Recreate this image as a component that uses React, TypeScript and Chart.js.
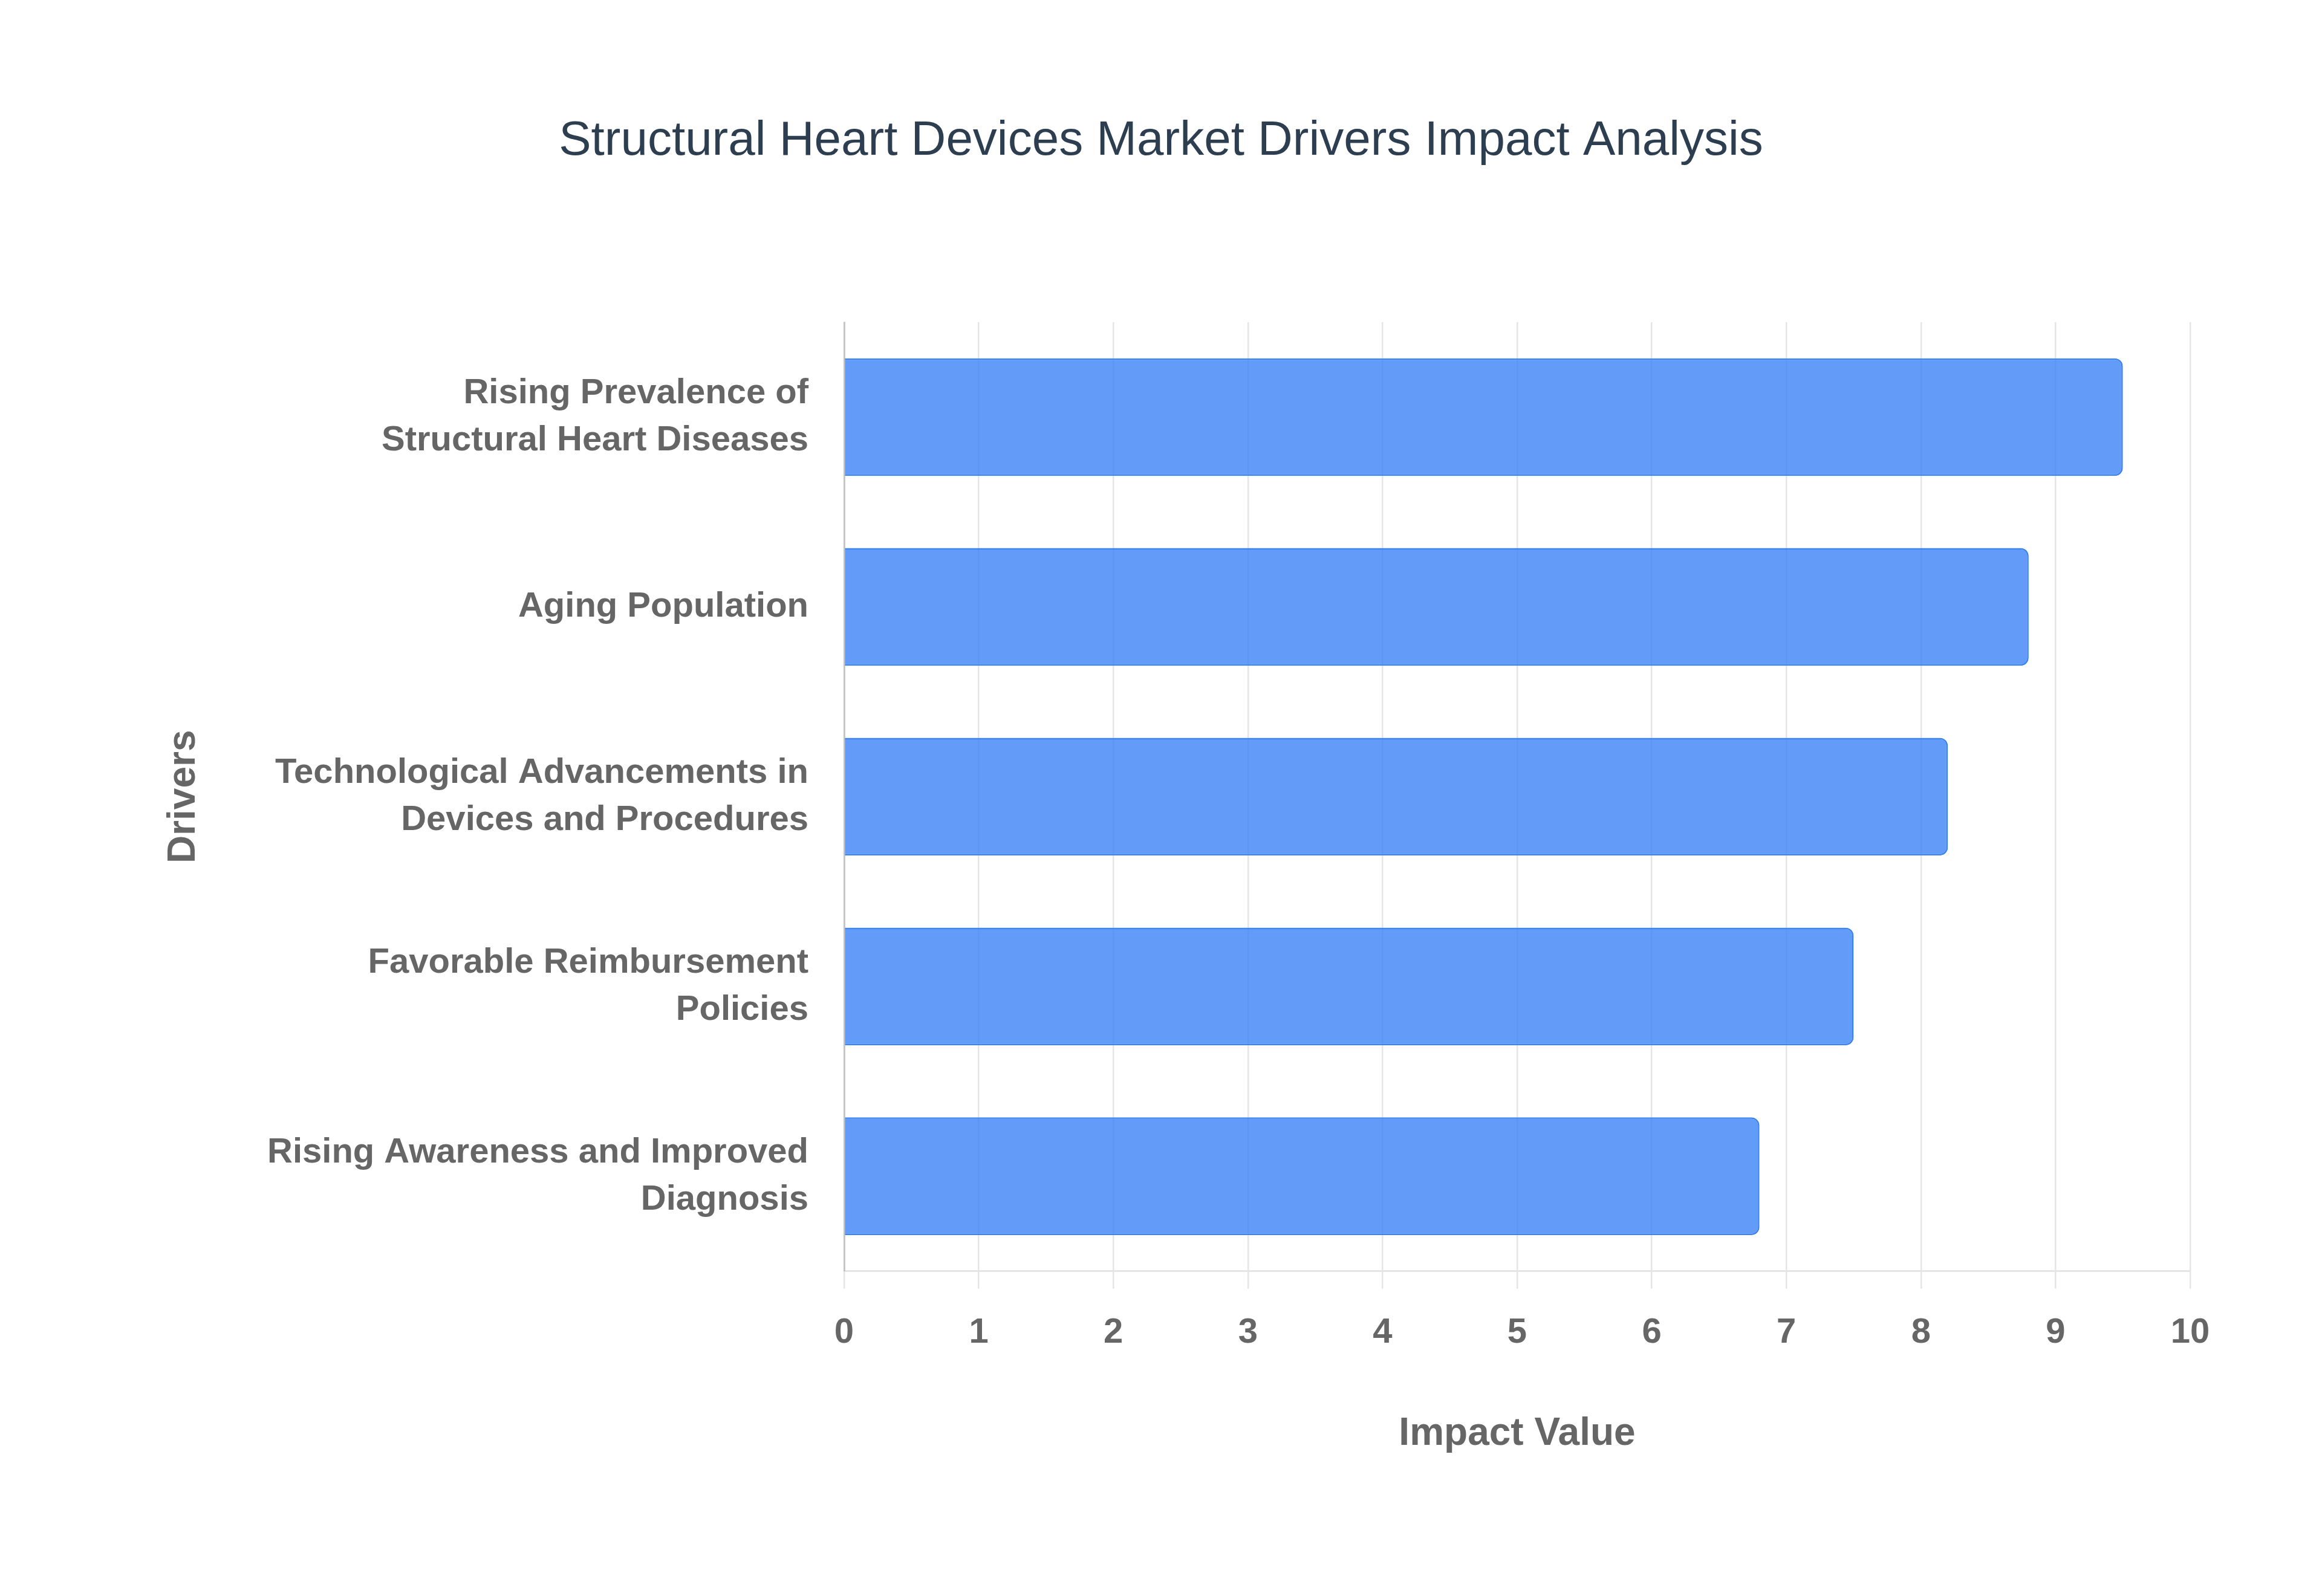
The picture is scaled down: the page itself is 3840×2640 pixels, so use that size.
import React, { useEffect, useRef } from 'react';
import Chart from 'chart.js/auto';

const drivers: string[][] = [
  ['Rising Prevalence of', 'Structural Heart Diseases'],
  ['Aging Population'],
  ['Technological Advancements in', 'Devices and Procedures'],
  ['Favorable Reimbursement', 'Policies'],
  ['Rising Awareness and Improved', 'Diagnosis'],
];
const impactValues: number[] = [9.5, 8.8, 8.2, 7.5, 6.8];
const xTicks: number[] = [0, 1, 2, 3, 4, 5, 6, 7, 8, 9, 10];

const FONT = "'Liberation Sans', Arial, Helvetica, sans-serif";

const App: React.FC = () => {
  const canvasRef = useRef<HTMLCanvasElement | null>(null);
  const chartRef = useRef<Chart | null>(null);

  useEffect(() => {
    document.body.style.margin = '0';
    if (!canvasRef.current) return;
    const ctx = canvasRef.current.getContext('2d');
    if (!ctx) return;

    if (chartRef.current) {
      chartRef.current.destroy();
      chartRef.current = null;
    }

    const gridColor = 'rgba(0, 0, 0, 0.1)';
    const textColor = '#666666';

    chartRef.current = new Chart(ctx, {
      type: 'bar',
      data: {
        labels: drivers,
        datasets: [
          {
            label: 'Impact Value',
            data: impactValues,
            backgroundColor: 'rgba(59, 130, 246, 0.8)',
            borderColor: 'rgb(59, 130, 246)',
            borderWidth: 2.5,
            borderRadius: 13,
            borderSkipped: 'start',
            barPercentage: 0.62,
            categoryPercentage: 1,
          },
        ],
      },
      options: {
        indexAxis: 'y',
        responsive: true,
        maintainAspectRatio: false,
        devicePixelRatio: 1,
        animation: false,
        layout: {
          // equal side padding keeps the chart title centred on the canvas
          padding: { left: 218, right: 218, top: 0, bottom: 229 },
        },
        plugins: {
          legend: { display: false },
          tooltip: { enabled: false },
          title: {
            display: true,
            text: 'Structural Heart Devices Market Drivers Impact Analysis',
            color: '#2c3e50',
            font: { family: FONT, size: 80, weight: 'normal', lineHeight: 1.2 },
            padding: { top: 186, bottom: 251 },
          },
        },
        scales: {
          x: {
            min: 0,
            max: 10,
            afterBuildTicks: (scale: any) => {
              scale.ticks = xTicks.map(v => ({ value: v }));
            },
            grid: {
              display: true,
              color: gridColor,
              lineWidth: 2.5,
              drawTicks: true,
              tickLength: 29,
            },
            border: { display: true, color: gridColor, width: 3 },
            ticks: {
              color: textColor,
              padding: 39,
              font: { family: FONT, size: 58, weight: 'bold', lineHeight: 1.2 },
            },
            title: {
              display: true,
              text: 'Impact Value',
              color: textColor,
              font: { family: FONT, size: 64, weight: 'bold', lineHeight: 1.2 },
              padding: { top: 55, bottom: 0 },
            },
          },
          y: {
            afterFit: (scale: any) => {
              scale.width = 1396 - 218;
            },
            grid: { display: false, drawTicks: false, tickLength: 0 },
            border: { display: true, color: 'rgba(0, 0, 0, 0.15)', width: 3 },
            ticks: {
              color: textColor,
              padding: 59,
              font: { family: FONT, size: 58, weight: 'bold', lineHeight: 1.34 },
            },
            title: {
              display: true,
              text: 'Drivers',
              color: textColor,
              // tall line box pushes the rotated title inwards to sit near x≈304
              font: { family: FONT, size: 64, weight: 'bold', lineHeight: 2.7 },
              padding: { top: 0, bottom: 0 },
            },
          },
        },
      },
    });

    return () => {
      if (chartRef.current) {
        chartRef.current.destroy();
        chartRef.current = null;
      }
    };
  }, []);

  return (
    <div style={{ width: '3840px', height: '2640px', position: 'relative', background: '#ffffff' }}>
      <canvas ref={canvasRef} />
    </div>
  );
};

export default App;
